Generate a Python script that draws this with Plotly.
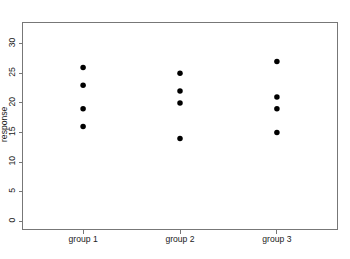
import plotly.graph_objects as go

groups = ["group 1", "group 2", "group 3"]
group_pos = [1, 2, 3]
g1 = [26, 23, 19, 16]
g2 = [25, 22, 20, 14]
g3 = [27, 21, 19, 15]
y_ticks = [0, 5, 10, 15, 20, 25, 30]

xs, ys = [], []
for pos, vals in zip(group_pos, [g1, g2, g3]):
    xs += [pos] * len(vals)
    ys += vals

font = dict(family="Liberation Sans, Arial, sans-serif", size=8.6, color="#222")

fig = go.Figure(go.Scatter(x=xs, y=ys, mode="markers",
                           marker=dict(color="black", size=5.5), showlegend=False))
fig.update_layout(
    width=350, height=259, margin=dict(l=23.3, r=13.3, t=23.3, b=30),
    paper_bgcolor="white", plot_bgcolor="white", font=font,
)
fig.update_xaxes(range=[0.38, 3.62], tickvals=group_pos, ticktext=groups,
                 showgrid=False, zeroline=False, showline=True, mirror=True,
                 linecolor="#777", linewidth=1, ticks="outside", ticklen=3.5,
                 tickcolor="#777", tickfont=font, automargin=False,
                 ticklabelstandoff=-2)
fig.update_yaxes(range=[-1.3, 33.5], tickvals=y_ticks, tickangle=-90,
                 showgrid=False, zeroline=False, showline=True, mirror=True,
                 linecolor="#777", linewidth=1, ticks="outside", ticklen=3.5,
                 tickcolor="#777", tickfont=font, automargin=False)
fig.add_annotation(text="response", textangle=-90, xref="paper", yref="paper",
                   x=0, y=0.5, xanchor="center", yanchor="middle",
                   xshift=-19, yshift=2, showarrow=False, font=font)
fig.write_html("out.html")
